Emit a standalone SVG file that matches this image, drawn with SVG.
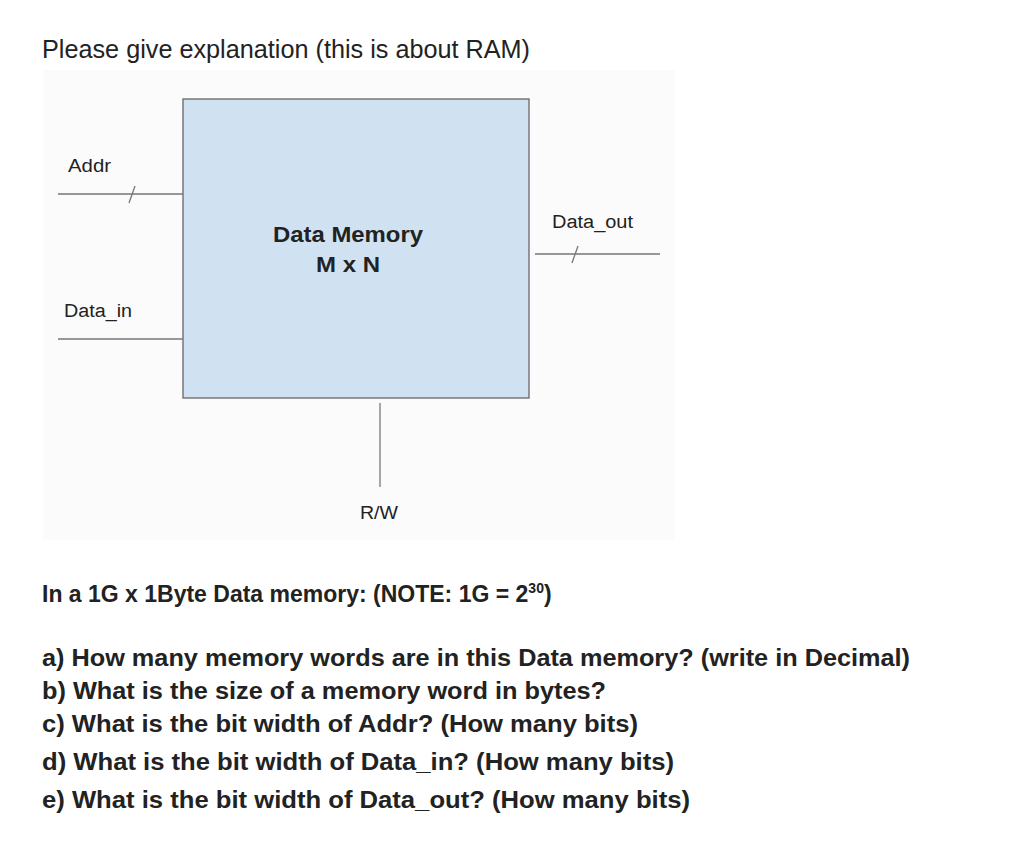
<svg xmlns="http://www.w3.org/2000/svg" width="1024" height="867" viewBox="0 0 1024 867">
<style>
.t{font-family:"Liberation Sans",Arial,sans-serif;fill:#222}
.q{font-family:"Liberation Sans",Arial,sans-serif;font-weight:bold;font-size:23px;fill:#222}
.w{stroke:#777;stroke-width:1.3;fill:none}
</style>
<rect width="1024" height="867" fill="#fff"/>
<text class="t" x="42" y="58" font-size="25" textLength="488" lengthAdjust="spacingAndGlyphs">Please give explanation (this is about RAM)</text>
<rect x="43" y="70" width="632" height="470" fill="#fbfbfb"/>
<g id="memory">
<rect x="183" y="99" width="346" height="299" fill="#d0e1f2" stroke="#666" stroke-width="1.3"/>
<text class="t" x="348" y="242" font-size="22" font-weight="bold" text-anchor="middle" textLength="150" lengthAdjust="spacingAndGlyphs">Data Memory</text>
<text class="t" x="348" y="272" font-size="22" font-weight="bold" text-anchor="middle" textLength="64" lengthAdjust="spacingAndGlyphs">M x N</text>
</g>
<g id="connectors">
<path class="w" d="M58 194H183M135 186L129 203"/>
<path class="w" d="M58 339H183"/>
<path class="w" d="M535 254H660M578 246L572 263"/>
<path class="w" d="M380 403V487"/>
</g>
<g id="labels">
<text class="t" x="68" y="172" font-size="18" textLength="43" lengthAdjust="spacingAndGlyphs">Addr</text>
<text class="t" x="64" y="317" font-size="18" textLength="68" lengthAdjust="spacingAndGlyphs">Data_in</text>
<text class="t" x="552" y="228" font-size="18" textLength="81" lengthAdjust="spacingAndGlyphs">Data_out</text>
<text class="t" x="360" y="519" font-size="18" textLength="38" lengthAdjust="spacingAndGlyphs">R/W</text>
</g>
<text class="q" x="42" y="602">In a 1G x 1Byte Data memory: (NOTE: 1G =  2<tspan font-size="14" dy="-9">30</tspan><tspan dy="9">)</tspan></text>
<text class="q" x="42" y="666" textLength="868" lengthAdjust="spacingAndGlyphs">a) How many memory words are in this Data memory? (write in Decimal)</text>
<text class="q" x="42" y="699" textLength="564" lengthAdjust="spacingAndGlyphs">b) What is the size of a memory word in bytes?</text>
<text class="q" x="42" y="732" textLength="596" lengthAdjust="spacingAndGlyphs">c) What is the bit width of Addr? (How many bits)</text>
<text class="q" x="42" y="770" textLength="632" lengthAdjust="spacingAndGlyphs">d) What is the bit width of Data_in? (How many bits)</text>
<text class="q" x="42" y="808" textLength="648" lengthAdjust="spacingAndGlyphs">e) What is the bit width of Data_out? (How many bits)</text>
</svg>
